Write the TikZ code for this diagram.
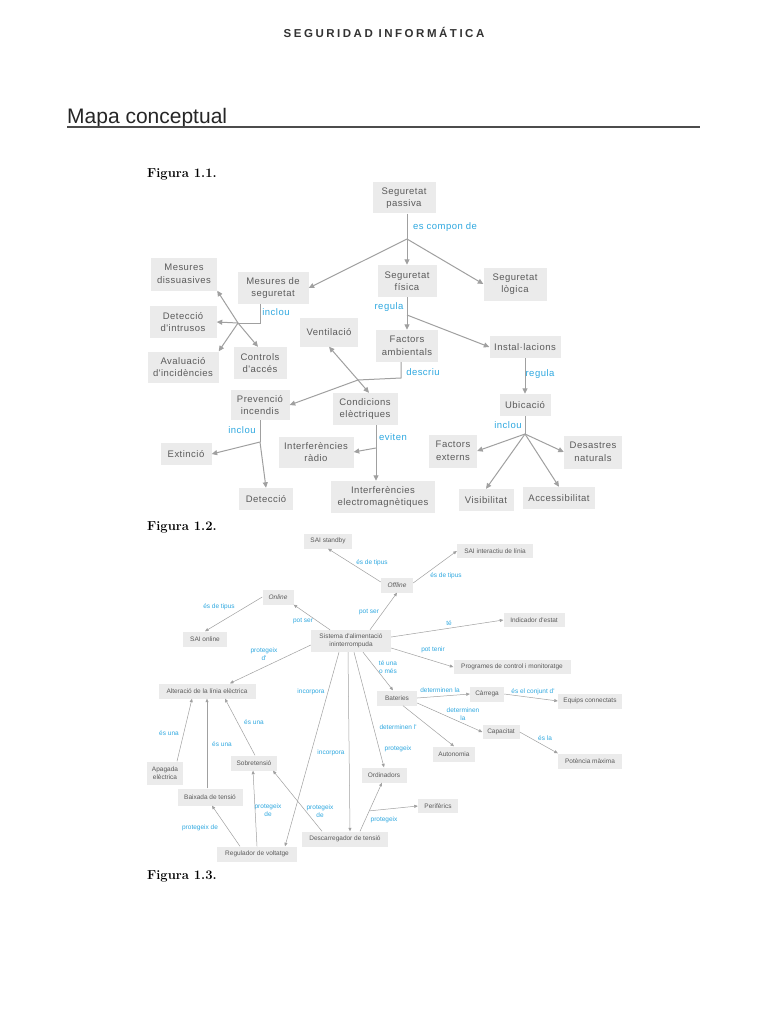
\documentclass[tikz,border=0pt]{standalone}
\usepackage{fontspec}
\usetikzlibrary{arrows.meta}
\newfontfamily\sfA[LetterSpace=5]{Liberation Sans}
\newfontfamily\sfB{Liberation Sans}
\newfontfamily\hdrfont[LetterSpace=22]{Liberation Sans}
\definecolor{boxgray}{HTML}{EBEBEB}
\definecolor{txtgray}{HTML}{5A5A5A}
\definecolor{lblblue}{HTML}{2EA8E0}
\definecolor{lngray}{HTML}{A0A0A0}
\definecolor{hdrgray}{HTML}{333333}
\begin{document}
\begin{tikzpicture}[x=1pt,y=-1pt,
 boxA/.style={fill=boxgray,text=txtgray,font=\sfA\fontsize{9.5}{12.5}\selectfont,align=center,inner sep=0pt},
 boxB/.style={fill=boxgray,text=txtgray,font=\sfB\fontsize{6.5}{8.5}\selectfont,align=center,inner sep=0pt},
 lblA/.style={text=lblblue,font=\sfA\fontsize{9.5}{11}\selectfont,inner sep=0pt},
 lblB/.style={text=lblblue,font=\sfB\fontsize{6.5}{7.5}\selectfont,align=center,inner sep=0pt},
 lnA/.style={draw=lngray,line width=1pt},
 arrA/.style={lnA,-{Triangle[length=5.5pt,width=5pt]}},
 lnB/.style={draw=lngray,line width=0.5pt},
 arrB/.style={lnB,-{Triangle[length=3.5pt,width=3pt]}},
 figlbl/.style={anchor=base west,inner sep=0pt,font=\bfseries\fontsize{13}{15}\selectfont},
]
\useasboundingbox[fill=white] (0,0) rectangle (768,1024);

% header
\node[text=hdrgray,font=\hdrfont\bfseries\fontsize{11.5}{13}\selectfont,inner sep=0pt] (hdr) at (384,32) {SEGURIDAD INFORMÁTICA};
\node[anchor=base west,inner sep=0pt,text=black!85,font=\sfB\fontsize{21}{24}\selectfont] (title) at (67,124) {Mapa conceptual};
\coordinate (rl) at (67,127);
\coordinate (rr) at (700,127);
\draw[draw=black!70,line width=1.2pt] (rl) -- (rr);

\node[figlbl] (f1) at (147,178) {Figura 1.1.};
\node[figlbl] (f2) at (147,530) {Figura 1.2.};
\node[figlbl] (f3) at (147,879) {Figura 1.3.};

% ---------------- Figure 1.1 ----------------
\node[boxA,minimum width=63,minimum height=31] (sp) at (404,198) {Seguretat\\passiva};
\node[boxA,minimum width=59,minimum height=32] (sf) at (407,281) {Seguretat\\física};
\node[boxA,minimum width=63,minimum height=33] (sl) at (515,284) {Seguretat\\lògica};
\node[boxA,minimum width=71,minimum height=32] (ms) at (273,288) {Mesures de\\seguretat};
\node[boxA,minimum width=66,minimum height=33] (md) at (184,274) {Mesures\\dissuasives};
\node[boxA,minimum width=67,minimum height=32] (di) at (183,322) {Detecció\\d'intrusos};
\node[boxA,minimum width=71,minimum height=31] (ai) at (183,367) {Avaluació\\d'incidències};
\node[boxA,minimum width=53,minimum height=32] (ca) at (260,363) {Controls\\d'accés};
\node[boxA,minimum width=58,minimum height=29] (ve) at (329,332) {Ventilació};
\node[boxA,minimum width=62,minimum height=32] (fa) at (407,346) {Factors\\ambientals};
\node[boxA,minimum width=71,minimum height=22] (inst) at (525,347) {Instal·lacions};
\node[boxA,minimum width=51,minimum height=22] (ub) at (525,405) {Ubicació};
\node[boxA,minimum width=48,minimum height=33] (fe) at (453,451) {Factors\\externs};
\node[boxA,minimum width=58,minimum height=33] (dn) at (593,452) {Desastres\\naturals};
\node[boxA,minimum width=55,minimum height=22] (vi) at (486,500) {Visibilitat};
\node[boxA,minimum width=72,minimum height=22] (ac) at (559,498) {Accessibilitat};
\node[boxA,minimum width=59,minimum height=30] (pi) at (260,405) {Prevenció\\incendis};
\node[boxA,minimum width=65,minimum height=32] (ce) at (365,409) {Condicions\\elèctriques};
\node[boxA,minimum width=51,minimum height=22] (ex) at (186,454) {Extinció};
\node[boxA,minimum width=54,minimum height=22] (de) at (266,499) {Detecció};
\node[boxA,minimum width=75,minimum height=31] (ir) at (316,452) {Interferències\\ràdio};
\node[boxA,minimum width=104,minimum height=32] (iem) at (383,497) {Interferències\\electromagnètiques};

\node[lblA] (l1) at (445,227) {es compon de};
\node[lblA] (l2) at (276,312) {inclou};
\node[lblA] (l3) at (389,307) {regula};
\node[lblA] (l4) at (540,374) {regula};
\node[lblA] (l5) at (423,372) {descriu};
\node[lblA] (l6) at (508,425) {inclou};
\node[lblA] (l7) at (242,430) {inclou};
\node[lblA] (l8) at (393,437) {eviten};

\coordinate (b1) at (407,239);
\draw[lnA] (sp.south -| b1) -- (b1);
\draw[arrA] (b1) -- (ms.east);
\draw[arrA] (b1) -- (sf.north);
\draw[arrA] (b1) -- (sl.west);

\coordinate (b2c) at (260,323);
\coordinate (b2) at (238,323);
\draw[lnA] (ms.south -| b2c) -- (b2c) -- (b2);
\draw[arrA] (b2) -- (md.south east);
\draw[arrA] (b2) -- (di.east);
\draw[arrA] (b2) -- (ai.north east);
\draw[arrA] (b2) -- ([xshift=-2pt]ca.north);

\coordinate (b3) at (407,315);
\draw[lnA] (sf.south) -- (b3);
\draw[arrA] (b3) -- (fa.north);
\draw[arrA] (b3) -- (inst.west);

\coordinate (b4a) at (401,378);
\coordinate (b4) at (358,380);
\draw[lnA] (fa.south -| b4a) -- (b4a) -- (b4);
\draw[arrA] (b4) -- (ve.south);
\draw[arrA] (b4) -- ([xshift=4pt]ce.north);
\draw[arrA] (b4) -- (pi.east);

\draw[arrA] (inst.south) -- (ub.north);

\coordinate (b5) at (525,434);
\draw[lnA] (ub.south) -- (b5);
\draw[arrA] (b5) -- (fe.east);
\draw[arrA] (b5) -- (dn.west);
\draw[arrA] (b5) -- (vi.north);
\draw[arrA] (b5) -- (ac.north);

\coordinate (b6) at (260,442);
\draw[lnA] (pi.south) -- (b6);
\draw[arrA] (b6) -- (ex.east);
\draw[arrA] (b6) -- (de.north);

\coordinate (b7) at (376,448);
\draw[lnA] (ce.south -| b7) -- (b7);
\draw[arrA] (b7) -- (ir.east);
\draw[arrA] (b7) -- (iem.north -| b7);

% ---------------- Figure 1.2 ----------------
\node[boxB,minimum width=48,minimum height=15] (sby) at (328,541) {SAI standby};
\node[boxB,minimum width=32,minimum height=15,font=\sfB\itshape\fontsize{6.5}{8.5}\selectfont] (off) at (397,585) {Offline};
\node[boxB,minimum width=31,minimum height=15,font=\sfB\itshape\fontsize{6.5}{8.5}\selectfont] (onl) at (278,597) {Online};
\node[boxB,minimum width=44,minimum height=15] (saio) at (205,639) {SAI online};
\node[boxB,minimum width=80,minimum height=22] (sis) at (351,641) {Sistema d'alimentació\\ininterrompuda};
\node[boxB,minimum width=76,minimum height=14] (sint) at (495,551) {SAI interactiu de línia};
\node[boxB,minimum width=61,minimum height=14] (ind) at (534,620) {Indicador d'estat};
\node[boxB,minimum width=117,minimum height=14] (prog) at (512,667) {Programes de control i monitoratge};
\node[boxB,minimum width=97,minimum height=15] (alt) at (207,691) {Alteració de la línia elèctrica};
\node[boxB,minimum width=40,minimum height=15] (bat) at (397,698) {Bateries};
\node[boxB,minimum width=34,minimum height=15] (car) at (487,694) {Càrrega};
\node[boxB,minimum width=64,minimum height=15] (eq) at (590,701) {Equips connectats};
\node[boxB,minimum width=37,minimum height=14] (cap) at (501,732) {Capacitat};
\node[boxB,minimum width=42,minimum height=15] (aut) at (454,754) {Autonomia};
\node[boxB,minimum width=64,minimum height=15] (pot) at (590,761) {Potència màxima};
\node[boxB,minimum width=36,minimum height=23] (apa) at (165,773) {Apagada\\elèctrica};
\node[boxB,minimum width=46,minimum height=15] (sob) at (254,763) {Sobretensió};
\node[boxB,minimum width=65,minimum height=17] (bai) at (210,797) {Baixada de tensió};
\node[boxB,minimum width=45,minimum height=15] (ord) at (384,775) {Ordinadors};
\node[boxB,minimum width=40,minimum height=14] (per) at (438,806) {Perifèrics};
\node[boxB,minimum width=86,minimum height=15] (des) at (345,839) {Descarregador de tensió};
\node[boxB,minimum width=80,minimum height=15] (reg) at (257,854) {Regulador de voltatge};

\node[lblB] (m1) at (372,563) {és de tipus};
\node[lblB] (m2) at (446,576) {és de tipus};
\node[lblB] (m3) at (219,607) {és de tipus};
\node[lblB] (m4) at (303,621) {pot ser};
\node[lblB] (m5) at (369,612) {pot ser};
\node[lblB] (m6) at (449,623) {té};
\node[lblB] (m7) at (433,650) {pot tenir};
\node[lblB] (m8) at (264,654) {protegeix\\d'};
\node[lblB] (m9) at (388,667) {té una\\o més};
\node[lblB] (m10) at (311,692) {incorpora};
\node[lblB] (m11) at (331,753) {incorpora};
\node[lblB] (m12) at (398,749) {protegeix};
\node[lblB] (m13) at (398,727) {determinen l'};
\node[lblB] (m14) at (440,690) {determinen la};
\node[lblB] (m15) at (463,714) {determinen\\la};
\node[lblB] (m16) at (533,692) {és el conjunt d'};
\node[lblB] (m17) at (545,738) {és la};
\node[lblB] (m18) at (169,733) {és una};
\node[lblB] (m19) at (222,744) {és una};
\node[lblB] (m20) at (254,722) {és una};
\node[lblB] (m21) at (200,828) {protegeix de};
\node[lblB] (m22) at (268,810) {protegeix\\de};
\node[lblB] (m23) at (320,811) {protegeix\\de};
\node[lblB] (m24) at (384,820) {protegeix};

\draw[arrB] ([yshift=3pt]off.west) -- (sby.south);
\draw[arrB] ([yshift=2pt]off.east) -- (sint.west);
\draw[arrB] (onl.west) -- (saio.north);
\draw[arrB] ([xshift=-21pt]sis.north) -- (onl.south east);
\draw[arrB] ([xshift=19pt]sis.north) -- (off.south);
\draw[arrB] ([yshift=4pt]sis.east) -- (ind.west);
\draw[arrB] ([yshift=-7pt]sis.east) -- (prog.west);
\draw[arrB] ([yshift=-4pt]sis.west) -- ([xshift=23pt]alt.north);
\draw[arrB] ([xshift=12pt]sis.south) -- ([xshift=-4pt]bat.north);
\draw[arrB] ([xshift=-12pt]sis.south) -- ([xshift=28pt]reg.north);
\draw[arrB] ([xshift=-3pt]sis.south) -- ([xshift=5pt]des.north);
\draw[arrB] ([xshift=3pt]sis.south) -- (ord.north);
\draw[arrB] (bat.east) -- (car.west);
\draw[arrB] ([yshift=-5pt]bat.east) -- (cap.west);
\draw[arrB] ([xshift=6pt]bat.south) -- (aut.north);
\draw[arrB] (car.east) -- (eq.west);
\draw[arrB] (cap.east) -- (pot.north west);
\draw[arrB] ([xshift=12pt]apa.north) -- ([xshift=-15pt]alt.south);
\draw[arrB] (bai.north -| alt.south) -- (alt.south);
\draw[arrB] ([xshift=1pt]sob.north) -- ([xshift=18pt]alt.south);
\draw[arrB] ([xshift=-17pt]reg.north) -- ([xshift=2pt]bai.south);
\draw[arrB] (reg.north) -- ([xshift=-1pt]sob.south);
\draw[arrB] ([xshift=-23pt]des.north) -- ([xshift=19pt]sob.south);
\draw[arrB] ([xshift=15pt]des.north) -- coordinate[pos=0.42] (pb) ([xshift=-2pt]ord.south);
\draw[arrB] (pb) -- (per.west);
\end{tikzpicture}
\end{document}
